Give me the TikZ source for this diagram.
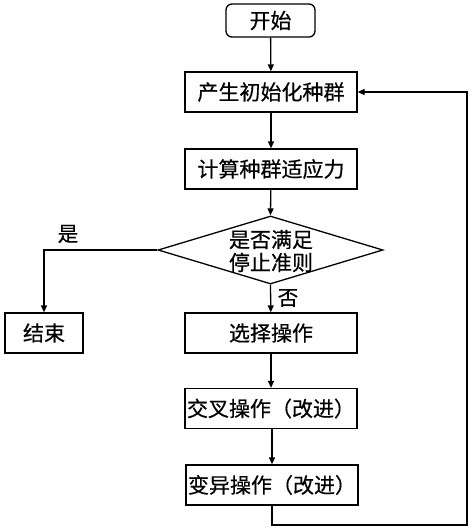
\documentclass[tikz,border=0pt]{standalone}
\usepackage{fontspec}
\setmainfont{Noto Sans CJK SC}[FakeBold=0.5]
\usetikzlibrary{shapes.geometric,arrows.meta}
\begin{document}
\begin{tikzpicture}[x=1pt,y=-1pt, line width=1.3pt,
  >={Triangle[length=7pt,width=6pt]},
  lbl/.style={font=\fontsize{20.5}{23}\selectfont},
  box/.style={draw, minimum width=172pt, minimum height=40pt, inner sep=0pt, font=\fontsize{21}{23}\selectfont}]
\useasboundingbox (0,0) rectangle (474,532);
\node[box, rounded corners=6pt, minimum width=89pt, minimum height=33pt] (start) at (270.5,20.5) {开始};
\node[box] (init) at (271,92) {产生初始化种群};
\node[box] (fit) at (271,169) {计算种群适应力};
\node[draw, diamond, minimum width=225pt, minimum height=68pt, inner sep=0pt] (dec) at (270.5,250) {};
\node[align=center, font=\fontsize{21}{23}\selectfont] (dectext) at (271,251) {是否满足\\停止准则};
\node[box, minimum width=78pt] (end) at (44,333) {结束};
\node[box] (sel) at (271,333) {选择操作};
\node[box] (cross) at (271,408.5) {交叉操作（改进）};
\node[box] (mut) at (272,485) {变异操作（改进）};
\node[lbl] (yes) at (68,234) {是};
\node[lbl] (no) at (288,298) {否};
\coordinate (c1) at (467,525);
\draw[->] (start) -- (init);
\draw[->] (init) -- (fit);
\draw[->] (fit) -- (dec.north);
\draw[->] (dec.west) -| (end.north);
\draw[->] (dec.south) -- (sel);
\draw[->] (sel) -- (cross);
\draw[->] ([xshift=1pt]cross.south) -- ([xshift=1pt]cross.south |- mut.north);
\draw[->] (mut.south) |- (c1) |- (init.east);
\end{tikzpicture}
\end{document}
